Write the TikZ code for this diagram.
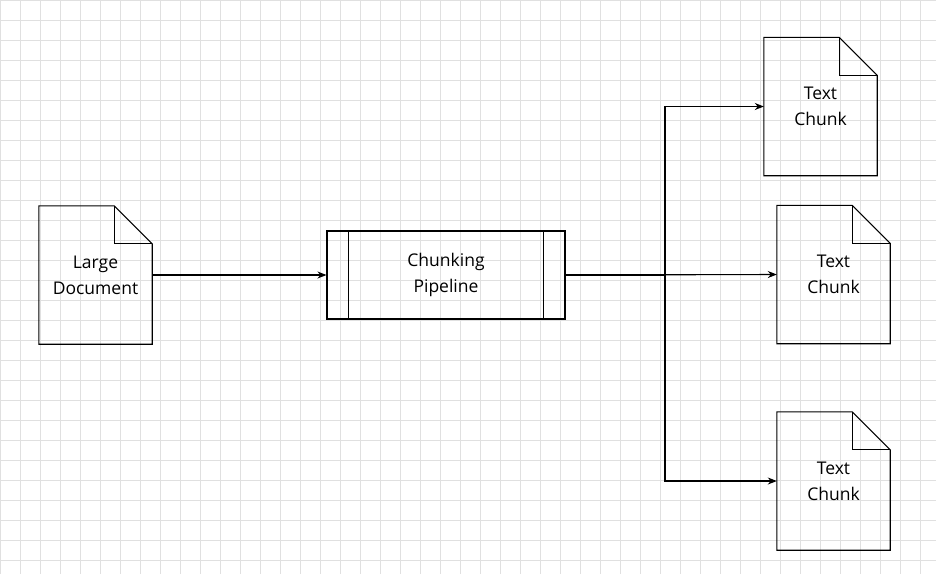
\documentclass[tikz,border=0pt]{standalone}
\usepackage{fontspec}
\setmainfont{Open Sans}
\usetikzlibrary{calc,arrows.meta}
\newcommand\docoutline[1]{%
  \draw[line width=1.1pt] (#1.north west) -- ($(#1.north east)+(-38,0)$) -- ($(#1.north east)+(0,38)$) -- (#1.south east) -- (#1.south west) -- cycle;
  \draw[line width=1.1pt] ($(#1.north east)+(-38,0)$) -- ($(#1.north east)+(-38,38)$) -- ($(#1.north east)+(0,38)$);}
\tikzset{
  x=1pt,y=-1pt,
  docbox/.style={minimum width=113pt,minimum height=138pt,inner sep=0pt,align=center,font=\fontsize{17.5}{26}\selectfont},
  procbox/.style={draw,line width=1.1pt,minimum width=238pt,minimum height=88pt,align=center,font=\fontsize{17.5}{26}\selectfont},
  conn/.style={line width=1.1pt,-{Stealth[length=9pt,width=7pt]}},
}
\begin{document}
\begin{tikzpicture}
\useasboundingbox (0,0) rectangle (936,574);
\fill[white] (0,0) rectangle (936,574);
\foreach \i in {0,20,...,920} \draw[black!12,line width=0.5pt] (\i,0) -- (\i,574);
\foreach \i in {0,20,...,560} \draw[black!12,line width=0.5pt] (0,\i) -- (936,\i);
\node[docbox] (doc) at (95.5,275) {Large\\Document};
\docoutline{doc}
\node[procbox] (pipe) at (446,275) {Chunking\\Pipeline};
\draw[line width=1.1pt] ($(pipe.north west)+(22,0)$) -- ($(pipe.south west)+(22,0)$);
\draw[line width=1.1pt] ($(pipe.north east)+(-22,0)$) -- ($(pipe.south east)+(-22,0)$);
\node[docbox] (c1) at (820.5,106.5) {Text\\Chunk};
\docoutline{c1}
\node[docbox] (c2) at (833.5,274.5) {Text\\Chunk};
\docoutline{c2}
\node[docbox] (c3) at (833.5,481) {Text\\Chunk};
\docoutline{c3}
\coordinate (j) at (665,275);
\draw[conn] (doc.east) -- (pipe.west);
\draw[conn] (pipe.east) -- (j) |- (c1.west);
\draw[conn] (pipe.east) -- (c2.west);
\draw[conn] (j) |- (c3.west);
\end{tikzpicture}
\end{document}
